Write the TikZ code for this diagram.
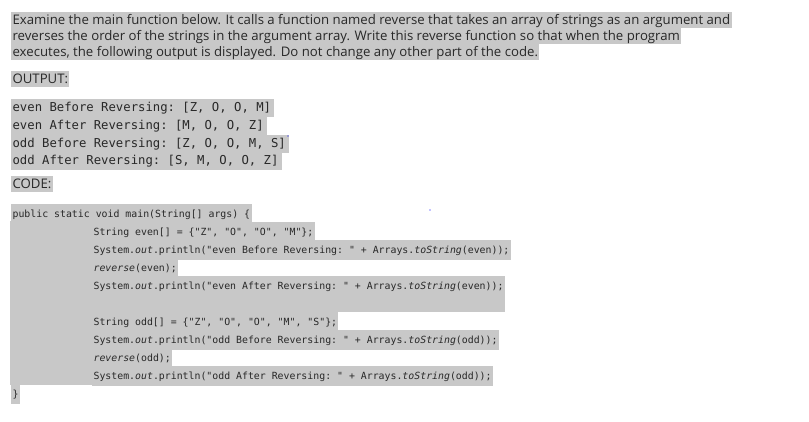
\documentclass[tikz,border=0pt]{standalone}
\usepackage{fontspec}
\setmainfont{Open Sans}
\setmonofont{DejaVu Sans Mono}
\begin{document}
\begin{tikzpicture}[x=0.75pt,y=-0.75pt,
  hl/.style={fill=hlgray,inner xsep=1pt,inner ysep=0pt,anchor=base west,text=txt},
  prose/.style={hl,font=\fontsize{9.9}{12}\selectfont,text height=9pt,text depth=3.2pt},
  outl/.style={hl,font=\ttfamily\fontsize{9.2}{11}\selectfont,text height=9pt,text depth=4.8pt},
  codel/.style={hl,font=\ttfamily\fontsize{7.4}{9}\selectfont,text height=9.6pt,text depth=5pt}]
\definecolor{hlgray}{RGB}{200,200,200}
\definecolor{txt}{RGB}{40,40,40}
\useasboundingbox (0,0) rectangle (809,421);
\fill[white] (0,0) rectangle (809,421);
% prose
\node[prose] (p1) at (11,24) {Examine the main function below. It calls a function named reverse that takes an array of strings as an argument and};
\node[prose] (p2) at (11,40) {reverses the order of the strings in the argument array. Write this reverse function so that when the program};
\node[prose] (p3) at (11,56) {executes, the following output is displayed. Do not change any other part of the code.};
\node[prose] (out) at (11,83) {OUTPUT:};
% output
\node[outl] (o1) at (11,111) {even Before Reversing: [Z, O, O, M]\,};
\node[outl] (o2) at (11,129) {even After Reversing: [M, O, O, Z]\,};
\node[outl] (o3) at (11,147) {odd Before Reversing: [Z, O, O, M, S]\,};
\node[outl] (o4) at (11,164) {odd After Reversing: [S, M, O, O, Z]\,};
\fill[blue] (288,136) circle (0.6);
\node[prose] (code) at (11,188) {CODE:};
% code
\fill[hlgray] (10,221) rectangle (93,385);
\node[codel] (c0) at (11,217) {public static void main(String[] args) \{ };
\node[codel] (c1) at (92,235) {String even[] = \{"Z", "O", "O", "M"\}; };
\node[codel] (c2) at (92,253) {System.\textit{out}.println("even Before Reversing: " + Arrays.\textit{toString}(even)); };
\node[codel] (c3) at (92,271) {\textit{reverse}(even); };
\node[codel] (c4) at (92,289) {System.\textit{out}.println("even After Reversing: " + Arrays.\textit{toString}(even)); };
\fill[hlgray] (92,292) rectangle (c4.south east |- 0,312);
\node[codel] (c6) at (92,325) {String odd[] = \{"Z", "O", "O", "M", "S"\}; };
\node[codel] (c7) at (92,343) {System.\textit{out}.println("odd Before Reversing: " + Arrays.\textit{toString}(odd)); };
\node[codel] (c8) at (92,361) {\textit{reverse}(odd); };
\node[codel] (c9) at (92,379) {System.\textit{out}.println("odd After Reversing: " + Arrays.\textit{toString}(odd)); };
\node[codel] (c10) at (11,397) {\}};
\fill[blue] (430,210) circle (0.6);
\end{tikzpicture}
\end{document}
